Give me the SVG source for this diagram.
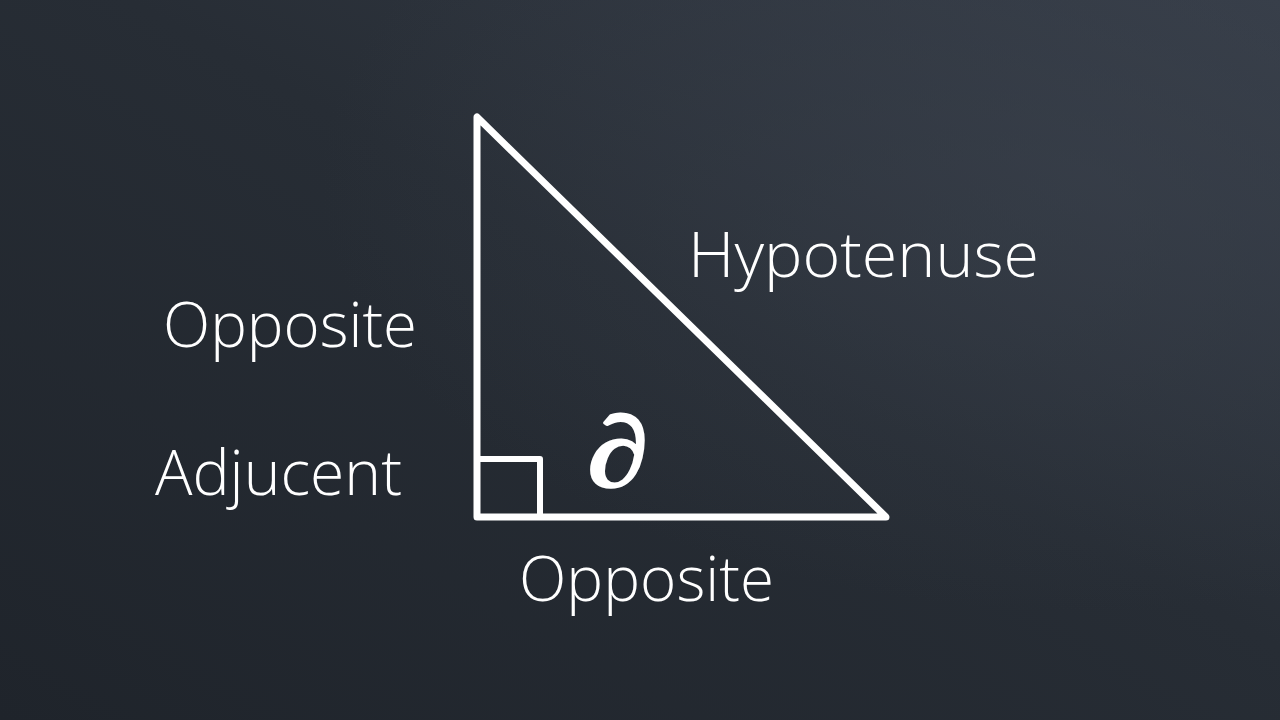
<svg xmlns="http://www.w3.org/2000/svg" width="1280" height="720" viewBox="0 0 1280 720">
<defs>
<linearGradient id="bg" x1="0" y1="1" x2="1" y2="0">
<stop offset="0" stop-color="#1f242b"/>
<stop offset="0.55" stop-color="#272d35"/>
<stop offset="1" stop-color="#373e49"/>
</linearGradient>
<radialGradient id="glow" cx="0.85" cy="0.25" r="0.6">
<stop offset="0" stop-color="#3a414c" stop-opacity="0.6"/>
<stop offset="1" stop-color="#3a414c" stop-opacity="0"/>
</radialGradient>
<style>
.chalk{fill:none;stroke:#ffffff;stroke-width:7;stroke-linejoin:round;stroke-linecap:round}
.lbl{font-family:"Open Sans","Noto Sans",sans-serif;font-size:62px;font-weight:350;fill:#ffffff}
.ang{font-family:"Liberation Serif","DejaVu Serif",serif;font-size:100px;font-weight:bold;fill:#ffffff;stroke:#ffffff;stroke-width:3;stroke-linejoin:round}
</style>
</defs>
<rect width="1280" height="720" fill="url(#bg)"/>
<rect width="1280" height="720" fill="url(#glow)"/>
<g id="triangle">
<polygon class="chalk" points="477,117 477,517 886,517"/>
<polyline class="chalk" points="477,459 540,459 540,517" style="stroke-width:6"/>
</g>
<g id="angle"><text class="ang" x="588" y="486" textLength="60" lengthAdjust="spacingAndGlyphs">∂</text></g>
<g id="hypotenuse"><text class="lbl" x="688" y="277" textLength="351" lengthAdjust="spacingAndGlyphs">Hypotenuse</text></g>
<g id="opposite-left"><text class="lbl" x="163" y="347" textLength="254" lengthAdjust="spacingAndGlyphs">Opposite</text></g>
<g id="adjucent"><text class="lbl" x="155" y="495" textLength="247" lengthAdjust="spacingAndGlyphs">Adjucent</text></g>
<g id="opposite-bottom"><text class="lbl" x="519" y="601" textLength="255" lengthAdjust="spacingAndGlyphs">Opposite</text></g>
<g id="connectors"/>
</svg>
